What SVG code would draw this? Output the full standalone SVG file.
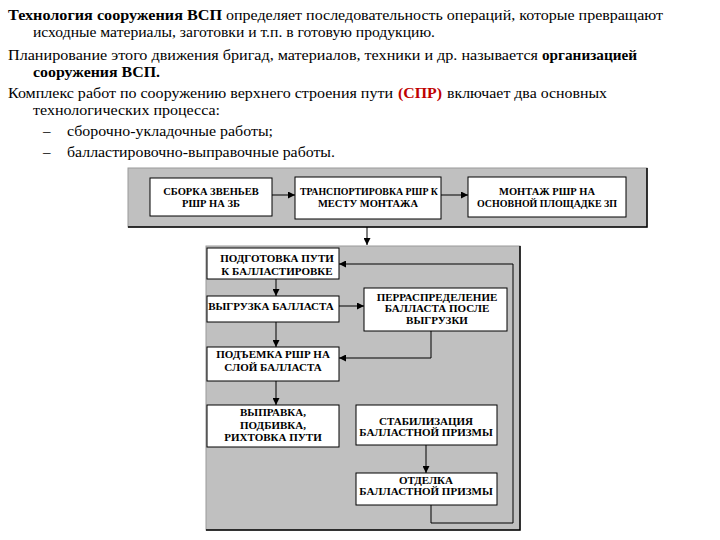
<svg xmlns="http://www.w3.org/2000/svg" width="720" height="540" viewBox="0 0 720 540">
<defs>
<marker id="ah" viewBox="0 0 10 10" refX="10" refY="5" markerWidth="7" markerHeight="7" markerUnits="userSpaceOnUse" orient="auto"><path d="M0,0 L10,5 L0,10 z" fill="#000"/></marker>
<style>
.t{font-family:"Liberation Serif","DejaVu Serif",serif;font-size:15px;fill:#000}
.b{font-weight:bold}
.red{fill:#c00000;font-weight:bold}
.panel{fill:#c0c0c0;stroke:#9a9a9a;stroke-width:1}
.shadow{fill:none;stroke:#000;stroke-width:1.5}
.box{fill:#fff;stroke:#000;stroke-width:1}
.bt{font-family:"Liberation Serif","DejaVu Serif",serif;font-weight:bold;font-size:10.5px;fill:#000;text-anchor:middle}
.lt{font-family:"Liberation Serif","DejaVu Serif",serif;font-weight:bold;font-size:11px;fill:#000;text-anchor:middle}
.c{fill:none;stroke:#000;stroke-width:1}
</style>
</defs>
<rect width="720" height="540" fill="#fff"/>
<g id="intro-text">
<text class="t b" x="8" y="20" textLength="214" lengthAdjust="spacingAndGlyphs">Технология сооружения ВСП</text>
<text class="t" x="226" y="20" textLength="437" lengthAdjust="spacingAndGlyphs">определяет последовательность операций, которые превращают</text>
<text class="t" x="33" y="37" textLength="402" lengthAdjust="spacingAndGlyphs">исходные материалы, заготовки и т.п. в готовую продукцию.</text>
<text class="t" x="8" y="60" textLength="530" lengthAdjust="spacingAndGlyphs">Планирование этого движения бригад, материалов, техники и др. называется</text>
<text class="t b" x="542" y="60" textLength="95" lengthAdjust="spacingAndGlyphs">организацией</text>
<text class="t b" x="33" y="77" textLength="127" lengthAdjust="spacingAndGlyphs">сооружения ВСП.</text>
<text class="t" x="8" y="98" textLength="385" lengthAdjust="spacingAndGlyphs">Комплекс работ по сооружению верхнего строения пути</text>
<text class="t red" x="398" y="98" textLength="44" lengthAdjust="spacingAndGlyphs">(СПР)</text>
<text class="t" x="447" y="98" textLength="160" lengthAdjust="spacingAndGlyphs">включает два основных</text>
<text class="t" x="33" y="115" textLength="187" lengthAdjust="spacingAndGlyphs">технологических процесса:</text>
<text class="t" x="43" y="136">–</text>
<text class="t" x="67" y="136" textLength="206" lengthAdjust="spacingAndGlyphs">сборочно-укладочные работы;</text>
<text class="t" x="43" y="157">–</text>
<text class="t" x="67" y="157" textLength="268" lengthAdjust="spacingAndGlyphs">балластировочно-выправочные работы.</text>
</g>
<g id="panel-top">
<rect class="panel" x="128" y="168" width="519" height="59"/>
<path class="shadow" d="M128,227 H647 V168"/>
</g>
<g id="panel-bottom">
<rect class="panel" x="206" y="246" width="314" height="284"/>
<path class="shadow" d="M206,530 H520 V246"/>
</g>
<g id="connectors">
<line class="c" x1="272" y1="195" x2="295" y2="195" marker-end="url(#ah)"/>
<line class="c" x1="441" y1="195" x2="468" y2="195" marker-end="url(#ah)"/>
<line class="c" x1="367" y1="227" x2="367" y2="245" marker-end="url(#ah)"/>
<line class="c" x1="276" y1="279" x2="276" y2="296" marker-end="url(#ah)"/>
<line class="c" x1="339" y1="306" x2="364" y2="306" marker-end="url(#ah)" stroke="#333"/>
<line class="c" x1="276" y1="322" x2="276" y2="347" marker-end="url(#ah)"/>
<polyline class="c" points="431,331 431,358 339,358" marker-end="url(#ah)" stroke="#333"/>
<line class="c" x1="276" y1="381" x2="276" y2="405" marker-end="url(#ah)"/>
<line class="c" x1="426" y1="445" x2="426" y2="473" marker-end="url(#ah)" stroke="#444"/>
<polyline class="c" points="431,505 431,523 513,523 513,264 339,264" marker-end="url(#ah)"/>
</g>
<g id="n-sborka">
<rect class="box" x="150" y="178" width="122" height="38"/>
<text class="bt" x="211" y="195">СБОРКА ЗВЕНЬЕВ</text>
<text class="bt" x="211" y="207">РШР НА ЗБ</text>
</g>
<g id="n-transport">
<rect class="box" x="295" y="177" width="146" height="42"/>
<text class="bt" x="369" y="195" textLength="138" lengthAdjust="spacingAndGlyphs">ТРАНСПОРТИРОВКА РШР К</text>
<text class="bt" x="368" y="207">МЕСТУ МОНТАЖА</text>
</g>
<g id="n-montazh">
<rect class="box" x="468" y="177" width="158" height="40"/>
<text class="bt" x="547" y="195">МОНТАЖ РШР НА</text>
<text class="bt" x="547" y="207" textLength="140" lengthAdjust="spacingAndGlyphs">ОСНОВНОЙ ПЛОЩАДКЕ ЗП</text>
</g>
<g id="n-podgotovka">
<rect class="box" x="207" y="248" width="132" height="31"/>
<text class="lt" x="277" y="262">ПОДГОТОВКА ПУТИ</text>
<text class="lt" x="277" y="275">К БАЛЛАСТИРОВКЕ</text>
</g>
<g id="n-vygruzka">
<rect class="box" x="207" y="296" width="132" height="26"/>
<text class="lt" x="271" y="310">ВЫГРУЗКА  БАЛЛАСТА</text>
</g>
<g id="n-perraspr">
<rect class="box" x="364" y="288" width="143" height="43"/>
<text class="lt" x="437" y="301">ПЕРРАСПРЕДЕЛЕНИЕ</text>
<text class="lt" x="437" y="312">БАЛЛАСТА ПОСЛЕ</text>
<text class="lt" x="437" y="324">ВЫГРУЗКИ</text>
</g>
<g id="n-podemka">
<rect class="box" x="207" y="347" width="132" height="34"/>
<text class="lt" x="273" y="358">ПОДЪЕМКА РШР НА</text>
<text class="lt" x="273" y="371">СЛОЙ БАЛЛАСТА</text>
</g>
<g id="n-vypravka">
<rect class="box" x="207" y="405" width="132" height="42"/>
<text class="lt" x="273" y="416">ВЫПРАВКА,</text>
<text class="lt" x="273" y="429">ПОДБИВКА,</text>
<text class="lt" x="273" y="441">РИХТОВКА ПУТИ</text>
</g>
<g id="n-stabil">
<rect class="box" x="356" y="405" width="141" height="40"/>
<text class="lt" x="426" y="425">СТАБИЛИЗАЦИЯ</text>
<text class="lt" x="426" y="436">БАЛЛАСТНОЙ ПРИЗМЫ</text>
</g>
<g id="n-otdelka">
<rect class="box" x="356" y="473" width="141" height="32"/>
<text class="lt" x="426" y="484">ОТДЕЛКА</text>
<text class="lt" x="426" y="495">БАЛЛАСТНОЙ ПРИЗМЫ</text>
</g>
</svg>
